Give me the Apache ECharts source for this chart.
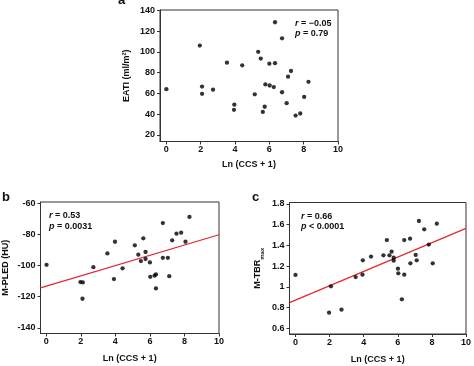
<!DOCTYPE html>
<html>
<head>
<meta charset="utf-8">
<script src="https://cdn.jsdelivr.net/npm/echarts@6/dist/echarts.min.js"></script>
<style>html,body{margin:0;padding:0;background:#fff;}#chart{width:474px;height:366px;}</style>
</head>
<body>
<div id="chart"></div>
<script>
// Panel a: EATI vs Ln(CCS+1)
const xA = [0, 1.95, 2.08, 2.08, 2.72, 3.53, 3.96, 3.94, 4.42, 5.15, 5.35, 5.5, 5.62, 5.73, 5.77, 6.0, 6.02, 6.26, 6.33, 6.33, 6.74, 6.74, 7.01, 7.09, 7.26, 7.53, 7.8, 8.03, 8.28];
const eati = [64, 106, 66.5, 59.5, 63.5, 89.5, 49, 44, 87, 59, 100, 93.5, 42, 47, 68.5, 88.5, 67.5, 66, 89, 128.5, 113, 61, 50.5, 76, 81.5, 38.5, 40.5, 56.5, 71];
// Panel b: M-PLED vs Ln(CCS+1)
const xB = [0.02, 1.98, 2.12, 2.1, 2.73, 3.54, 3.98, 3.92, 4.42, 5.13, 5.33, 5.48, 5.62, 5.75, 5.75, 6.0, 6.02, 6.27, 6.35, 6.35, 6.75, 6.75, 7.04, 7.12, 7.29, 7.54, 7.81, 8.06, 8.29];
const mpled = [-99.5, -110.6, -110.8, -121.3, -101, -92.2, -84.7, -108.7, -101.8, -87, -93, -97.1, -82.5, -91.3, -95.8, -98, -107.2, -106.5, -105.7, -114.7, -72.7, -95, -95, -106.8, -83.8, -79.5, -78.9, -84.7, -68.8];
// Panel c: M-TBRmax vs Ln(CCS+1)
const xC = [0, 1.97, 2.08, 2.7, 3.53, 3.95, 3.93, 4.43, 5.16, 5.36, 5.51, 5.64, 5.76, 5.76, 6.01, 6.03, 6.24, 6.38, 6.38, 6.72, 6.74, 7.05, 7.11, 7.24, 7.55, 7.82, 8.05, 8.29];
const mtbr = [1.115, 0.751, 1.005, 0.78, 1.095, 1.256, 1.118, 1.292, 1.305, 1.452, 1.305, 1.34, 1.282, 1.253, 1.176, 1.131, 0.88, 1.118, 1.452, 1.465, 1.227, 1.308, 1.256, 1.636, 1.556, 1.408, 1.227, 1.61];
// Regression line endpoints
const fitB = [[-0.33, -114.3], [10, -80.2]];
const fitC = [[-0.35, 0.848], [10, 1.565]];
// Ticks
const xTicks = [0, 2, 4, 6, 8, 10];
const yTicksA = [20, 40, 60, 80, 100, 120, 140];
const yTicksB = [-140, -120, -100, -80, -60];
const yTicksC = [0.6, 0.8, 1, 1.2, 1.4, 1.6, 1.8];

const FONT = "'Liberation Sans', Arial, sans-serif";
const txt = {fontFamily: FONT, fontWeight: 'bold', fontSize: 9, color: '#111'};
const zipPts = (xs, ys) => xs.map((x, i) => [x, ys[i]]);

function xAxis(gi, min, nameGap) {
  return {
    gridIndex: gi, type: 'value', min: min, max: 10,
    name: 'Ln (CCS + 1)', nameLocation: 'middle', nameGap: nameGap,
    nameTextStyle: Object.assign({}, txt),
    axisLine: {show: true, onZero: false, lineStyle: {color: '#333', width: 1}},
    axisTick: {show: true, length: 3, customValues: xTicks, lineStyle: {color: '#333'}},
    axisLabel: Object.assign({customValues: xTicks, margin: 4}, txt),
    splitLine: {show: false}
  };
}
function yAxis(gi, min, max, ticks, name, nameGap, rich) {
  return {
    gridIndex: gi, type: 'value', min: min, max: max,
    name: name, nameLocation: 'middle', nameGap: nameGap,
    nameTextStyle: Object.assign({rich: rich || {}}, txt),
    axisLine: {show: true, onZero: false, lineStyle: {color: '#333', width: 1}},
    axisTick: {show: true, length: 3, customValues: ticks, lineStyle: {color: '#333'}},
    axisLabel: Object.assign({customValues: ticks, margin: 5}, txt),
    splitLine: {show: false}
  };
}
const gridStyle = {show: true, borderColor: '#333', borderWidth: 1, backgroundColor: 'transparent'};
const dot = {symbol: 'circle', symbolSize: 4.3, itemStyle: {color: '#000'}};

const chart = echarts.init(document.getElementById('chart'), null, {renderer: 'canvas'});
chart.setOption({
  animation: false,
  backgroundColor: '#fff',
  grid: [
    Object.assign({left: 160, top: 10, width: 178, height: 131.5}, gridStyle),
    Object.assign({left: 40.5, top: 202, width: 178.5, height: 131.5}, gridStyle),
    Object.assign({left: 289.5, top: 202.5, width: 179, height: 131.5}, gridStyle)
  ],
  xAxis: [xAxis(0, -0.37, 19), xAxis(1, -0.33, 21), xAxis(2, -0.35, 21)],
  yAxis: [
    yAxis(0, 13.5, 140.3, yTicksA, 'EATI (ml/m²)', 29),
    yAxis(1, -143.6, -59.2, yTicksB, 'M-PLED (HU)', 30),
    yAxis(2, 0.545, 1.8145, yTicksC, 'M-TBR{sub|max}', 27, {sub: {fontFamily: FONT, fontWeight: 'bold', fontSize: 6, color: '#111', verticalAlign: 'bottom', padding: [0, 0, -3, 0]}})
  ],
  series: [
    Object.assign({type: 'scatter', xAxisIndex: 0, yAxisIndex: 0, data: zipPts(xA, eati)}, dot),
    {type: 'line', xAxisIndex: 1, yAxisIndex: 1, data: fitB, symbol: 'none', lineStyle: {color: '#e3262f', width: 1.2}, z: 1},
    Object.assign({type: 'scatter', xAxisIndex: 1, yAxisIndex: 1, data: zipPts(xB, mpled), z: 3}, dot),
    {type: 'line', xAxisIndex: 2, yAxisIndex: 2, data: fitC, symbol: 'none', lineStyle: {color: '#e3262f', width: 1.2}, z: 1},
    Object.assign({type: 'scatter', xAxisIndex: 2, yAxisIndex: 2, data: zipPts(xC, mtbr), z: 3}, dot)
  ],
  graphic: [
    {type: 'text', left: 118, top: -6, style: {text: 'a', font: "bold 13px " + FONT, fill: '#111'}},
    {type: 'text', left: 2, top: 191, style: {text: 'b', font: "bold 13px " + FONT, fill: '#111'}},
    {type: 'text', left: 252, top: 191, style: {text: 'c', font: "bold 13px " + FONT, fill: '#111'}},
    {type: 'text', left: 295, top: 18, style: {text: '{i|r} = −0.05\n{i|p} = 0.79', font: "bold 9px " + FONT, fill: '#111', lineHeight: 10.5,
      rich: {i: {fontStyle: 'italic', fontWeight: 'bold', fontSize: 9, fontFamily: FONT}}}},
    {type: 'text', left: 49, top: 210.5, style: {text: '{i|r} = 0.53\n{i|p} = 0.0031', font: "bold 9px " + FONT, fill: '#111', lineHeight: 10.5,
      rich: {i: {fontStyle: 'italic', fontWeight: 'bold', fontSize: 9, fontFamily: FONT}}}},
    {type: 'text', left: 301, top: 211, style: {text: '{i|r} = 0.66\n{i|p} < 0.0001', font: "bold 9px " + FONT, fill: '#111', lineHeight: 10.5,
      rich: {i: {fontStyle: 'italic', fontWeight: 'bold', fontSize: 9, fontFamily: FONT}}}}
  ]
});
</script>
</body>
</html>
